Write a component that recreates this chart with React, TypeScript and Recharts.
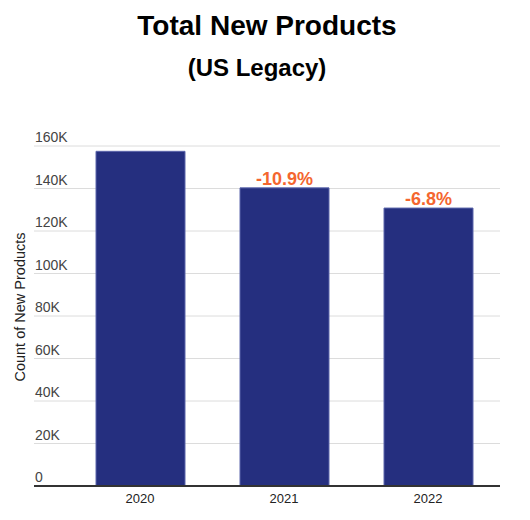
import * as React from "react";
import { BarChart, Bar, XAxis, YAxis, CartesianGrid, LabelList } from "recharts";

const years = ["2020", "2021", "2022"];
const newProducts = [157500, 140300, 130800];
const changeLabels = ["", "-10.9%", "-6.8%"];
const yTicks = [0, 20000, 40000, 60000, 80000, 100000, 120000, 140000, 160000];

const data = years.map((year, i) => ({
  year,
  count: newProducts[i],
  change: changeLabels[i],
}));

const FONT = "'Liberation Sans', Arial, sans-serif";

const fmtK = (v: number) => (v === 0 ? "0" : `${v / 1000}K`);

// Google-style inside labels: left-aligned, sitting just above each gridline.
function YTick({ y, payload }: any) {
  return (
    <text x={35} y={y - 4} textAnchor="start" fontSize={14} fill="#444" fontFamily={FONT}>
      {fmtK(payload.value)}
    </text>
  );
}

function ChangeLabel({ x, y, width, value }: any) {
  if (!value) return null;
  return (
    <text
      x={x + width / 2}
      y={y - 3}
      textAnchor="middle"
      fontSize={18}
      fontWeight="bold"
      fill="#f4662f"
      fontFamily={FONT}
    >
      {value}
    </text>
  );
}

export default function App() {
  return (
    <div style={{ position: "absolute", left: 0, top: 0, width: 530, height: 520, background: "#fff" }}>
      <BarChart
        width={530}
        height={520}
        data={data}
        margin={{ top: 146, right: 30, bottom: 4, left: 0 }}
      >
        <CartesianGrid vertical={false} stroke="#dcdcdc" />
        <XAxis
          dataKey="year"
          height={30}
          padding={{ left: 34, right: 0 }}
          tickLine={false}
          tickSize={0}
          tickMargin={8}
          axisLine={{ stroke: "#333", strokeWidth: 2 }}
          tick={{ fontSize: 13, fill: "#222", fontFamily: FONT }}
        />
        <YAxis
          width={34}
          domain={[0, 160000]}
          ticks={yTicks}
          axisLine={false}
          tickLine={false}
          tick={<YTick />}
        />
        <Bar
          dataKey="count"
          barSize={89}
          fill="#252f7f"
          stroke="#5c66ac"
          strokeWidth={1}
          isAnimationActive={false}
        >
          <LabelList dataKey="change" content={<ChangeLabel />} />
        </Bar>
      </BarChart>
      <svg
        width={530}
        height={520}
        style={{ position: "absolute", left: 0, top: 0, pointerEvents: "none" }}
      >
        <text x={267} y={35} textAnchor="middle" fontSize={28} fontWeight="bold" fill="#000" fontFamily={FONT}>
          Total New Products
        </text>
        <text x={257} y={76} textAnchor="middle" fontSize={24} fontWeight="bold" fill="#000" fontFamily={FONT}>
          (US Legacy)
        </text>
        <text
          transform="translate(25,307) rotate(-90)"
          textAnchor="middle"
          fontSize={14.5}
          fill="#222"
          fontFamily={FONT}
        >
          Count of New Products
        </text>
      </svg>
    </div>
  );
}
